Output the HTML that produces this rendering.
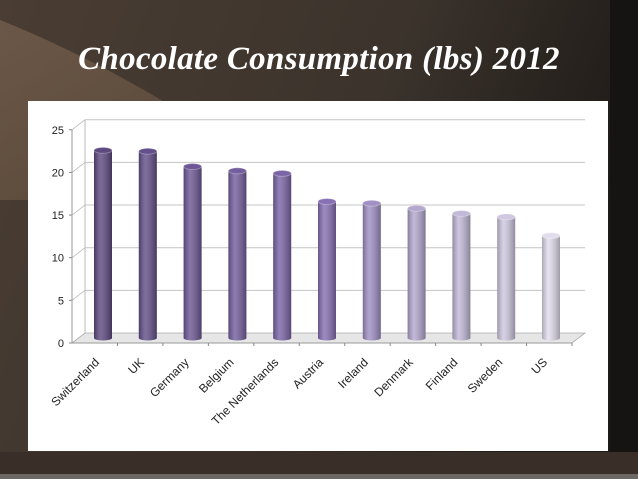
<!DOCTYPE html>
<html><head><meta charset="utf-8"><style>
html,body{margin:0;padding:0;width:638px;height:479px;overflow:hidden;background:#2b241f}
#bg{position:absolute;left:0;top:0}
h1{position:absolute;left:0;top:41px;width:638px;margin:0;text-align:center;font:italic bold 33px "Liberation Serif",serif;color:#fff;letter-spacing:0.3px}
#panel{position:absolute;left:28px;top:101px;width:580px;height:350px;background:#fff}
svg text{font-family:"Liberation Sans",sans-serif;font-size:11px;fill:#222}
svg text.xl{font-size:12px}
</style></head><body>
<svg id="bg" width="638" height="479">
<defs>
<linearGradient id="g0" x1="0" y1="0" x2="1" y2="0.3"><stop offset="0" stop-color="#4a3d33"/><stop offset="0.6" stop-color="#3b332c"/><stop offset="1" stop-color="#1e1a17"/></linearGradient>
<linearGradient id="g1" x1="0" y1="0" x2="1" y2="1"><stop offset="0" stop-color="#7a6350"/><stop offset="1" stop-color="#5a4838"/></linearGradient>
</defs>
<rect width="638" height="479" fill="url(#g0)"/>
<path d="M0 20 Q150 80 310 200 L0 200 Z" fill="url(#g1)" opacity="0.7"/>
<rect x="610" y="0" width="28" height="479" fill="#161412"/>
<rect x="0" y="452" width="638" height="27" fill="#3a2f28"/>
<rect x="0" y="474" width="638" height="5" fill="#6b6763"/>
</svg>
<h1>Chocolate Consumption (lbs) 2012</h1>
<div id="panel"></div>
<svg id="chart" width="638" height="479" style="position:absolute;left:0;top:0">
<defs>
<linearGradient id="cyl" x1="0" x2="1"><stop offset="0" stop-color="#000" stop-opacity="0.25"/><stop offset="0.35" stop-color="#fff" stop-opacity="0.18"/><stop offset="1" stop-color="#000" stop-opacity="0.3"/></linearGradient>
</defs>
</svg>
<script>
const categories=["Switzerland","UK","Germany","Belgium","The Netherlands","Austria","Ireland","Denmark","Finland","Sweden","US"];
const values=[22.0,21.9,20.1,19.6,19.3,16.0,15.8,15.2,14.6,14.2,12.0];
const colors=["#5e4a80","#63508a","#6d5895","#745f9e","#7a65a6","#8770b3","#a090c4","#b4a8cf","#c2b9d8","#cfc8e0","#e2dded"];
const ticks=[0,5,10,15,20,25];
const NS="http://www.w3.org/2000/svg";
const svg=document.getElementById('chart');
const y0=343,pxPer=8.53,dx=13,dy=-10,x0=72,xEnd=572;
function yF(v){return y0-v*pxPer;}
function xF(i){return 103+i*44.8;}
function mk(t,a){const e=document.createElementNS(NS,t);for(const k in a)e.setAttribute(k,a[k]);svg.appendChild(e);return e;}
let fl=mk('polygon',{points:`${x0},${y0} ${x0+dx},${y0+dy} ${xEnd+dx},${y0+dy} ${xEnd},${y0}`,fill:'#e6e6e6',stroke:'#aaa','stroke-width':0.8});


ticks.forEach(t=>{
 const y=yF(t);
 if(t>0){let g=mk('line',{x1:x0,y1:y,x2:x0+dx,y2:y+dy,stroke:'#bbb','stroke-width':0.8});
 
 let h=mk('line',{x1:x0+dx,y1:y+dy,x2:xEnd+dx,y2:y+dy,stroke:'#c4c4c4','stroke-width':1});
 }
 let tk=mk('text',{x:x0-8,y:y+4,'text-anchor':'end'});tk.textContent=t;
 
 let tm=mk('line',{x1:x0-3,y1:y,x2:x0,y2:y,stroke:'#888'});
 
});
let ya=mk('line',{x1:x0,y1:y0,x2:x0,y2:yF(25),stroke:'#999'});

let yb=mk('line',{x1:x0+dx,y1:y0+dy,x2:x0+dx,y2:yF(25)+dy,stroke:'#bbb'});

let xa=mk('line',{x1:x0,y1:y0,x2:xEnd,y2:y0,stroke:'#999'});

categories.forEach((c,i)=>{
 const cx=xF(i),w=18,base=y0-5,top=base-values[i]*pxPer;
 const g=document.createElementNS(NS,'g');svg.appendChild(g);
 
 
 const r=document.createElementNS(NS,'path');
 r.setAttribute('d',`M${cx-w/2},${top} L${cx-w/2},${base} A${w/2},2.5 0 0 0 ${cx+w/2},${base} L${cx+w/2},${top} Z`);
 r.setAttribute('fill',colors[i]);g.appendChild(r);
 const s=r.cloneNode();s.setAttribute('fill','url(#cyl)');g.appendChild(s);
 const e=document.createElementNS(NS,'ellipse');
 e.setAttribute('cx',cx);e.setAttribute('cy',top);e.setAttribute('rx',w/2);e.setAttribute('ry',3);
 e.setAttribute('fill',colors[i]);e.setAttribute('stroke','#fff');e.setAttribute('stroke-opacity','0.3');g.appendChild(e);
 const tx=x0+(i+1)*(xEnd-x0)/categories.length;
 let tm=mk('line',{x1:tx,y1:y0,x2:tx,y2:y0+3,stroke:'#888'});
 
 const lx=cx-3,ly=y0+20;
 let t=mk('text',{x:lx,y:ly,'text-anchor':'end','class':'xl',transform:`rotate(-45 ${lx} ${ly})`});
 t.textContent=c;
 
 
});
</script>
</body></html>
